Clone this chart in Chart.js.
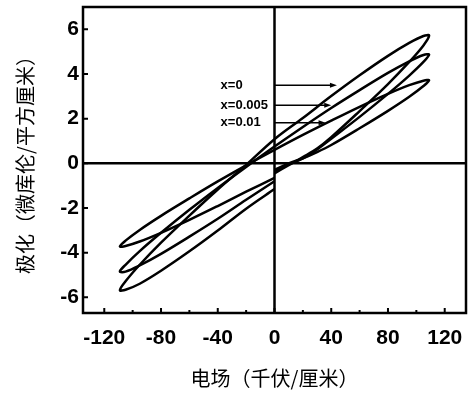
<!DOCTYPE html>
<html>
<head>
<meta charset="utf-8">
<script src="https://cdn.jsdelivr.net/npm/chart.js@4/dist/chart.umd.min.js"></script>
<style>
	body { margin: 0; background: #fff; }
	#wrap { width: 474px; height: 395px; position: relative; }
</style>
</head>
<body>
<div id="wrap"><canvas id="loop"></canvas></div>
<script>
//data
const fieldE = [0, 10, 20, 30, 40, 60, 80, 95, 105, 109, 105, 95, 80, 60, 40, 20, 0, -20, -40, -60, -80, -95, -105, -109, -105, -95, -80, -60, -40, -20, 0];
const polX0 = [-0.45, -0.08, 0.28, 0.66, 1.17, 2.34, 3.55, 4.54, 5.28, 5.72, 5.70, 5.39, 4.81, 3.94, 3.01, 2.03, 1.08, -0.07, -1.17, -2.34, -3.55, -4.54, -5.28, -5.68, -5.66, -5.39, -4.81, -3.94, -3.01, -2.03, -1.15];
const polX005 = [-0.35, -0.05, 0.22, 0.62, 1.10, 2.08, 3.11, 3.93, 4.54, 4.87, 4.85, 4.57, 4.05, 3.28, 2.48, 1.63, 0.75, -0.16, -1.10, -2.08, -3.11, -3.93, -4.54, -4.84, -4.85, -4.57, -4.05, -3.28, -2.48, -1.63, -0.80];
const polX01 = [-0.30, 0.0, 0.22, 0.50, 0.82, 1.57, 2.35, 2.98, 3.46, 3.72, 3.70, 3.50, 3.11, 2.53, 1.91, 1.27, 0.60, -0.09, -0.81, -1.57, -2.35, -2.98, -3.46, -3.72, -3.70, -3.50, -3.11, -2.53, -1.91, -1.27, -0.65];

const seriesNames = ["x=0", "x=0.005", "x=0.01"];
const labelP = [3.5, 2.6, 1.82];
const arrowEndE = [44, 40, 36];

const xTicks = [-120, -80, -40, 0, 40, 80, 120];
const xMinorTicks = [-100, -60, -20, 20, 60, 100];
const yTicks = [-6, -4, -2, 0, 2, 4, 6];

function toPoints(ys) {
	return fieldE.map(function (e, i) {
		return { x: e, y: ys[i] };
	});
}

//frame, zero lines, inner ticks, labels with arrows
const decor = {
	id: "decor",
	afterDatasetsDraw: function (chart) {
		let ctx = chart.ctx;
		let a = chart.chartArea;
		let xs = chart.scales.x;
		let ys = chart.scales.y;
		ctx.save();
		ctx.strokeStyle = "#000";
		ctx.lineWidth = 2.5;
		ctx.strokeRect(a.left, a.top, a.right - a.left, a.bottom - a.top);

		let x0 = xs.getPixelForValue(0);
		let y0 = ys.getPixelForValue(0);
		ctx.beginPath();
		ctx.moveTo(x0, a.top);
		ctx.lineTo(x0, a.bottom);
		ctx.moveTo(a.left, y0);
		ctx.lineTo(a.right, y0);
		ctx.stroke();

		ctx.lineWidth = 2;
		ctx.beginPath();
		xTicks.forEach(function (v) {
			let px = xs.getPixelForValue(v);
			ctx.moveTo(px, a.bottom);
			ctx.lineTo(px, a.bottom - 5);
		});
		xMinorTicks.forEach(function (v) {
			let px = xs.getPixelForValue(v);
			ctx.moveTo(px, a.bottom);
			ctx.lineTo(px, a.bottom - 3);
		});
		yTicks.forEach(function (v) {
			let py = ys.getPixelForValue(v);
			ctx.moveTo(a.left, py);
			ctx.lineTo(a.left + 5, py);
		});
		ctx.stroke();

		ctx.font = "bold 13px 'Liberation Sans', Arial, sans-serif";
		ctx.fillStyle = "#000";
		ctx.textAlign = "left";
		ctx.textBaseline = "middle";
		ctx.lineWidth = 1.5;
		seriesNames.forEach(function (name, i) {
			let py = ys.getPixelForValue(labelP[i]);
			ctx.fillText(name, xs.getPixelForValue(-38), py);
			let xe = xs.getPixelForValue(arrowEndE[i]);
			ctx.beginPath();
			ctx.moveTo(x0, py);
			ctx.lineTo(xe - 5, py);
			ctx.stroke();
			ctx.beginPath();
			ctx.moveTo(xe, py);
			ctx.lineTo(xe - 7, py - 2.5);
			ctx.lineTo(xe - 7, py + 2.5);
			ctx.closePath();
			ctx.fill();
		});
		ctx.restore();
	},
};

const tickFont = { family: "'Liberation Sans', Arial, sans-serif", size: 21, weight: "bold" };
const cjkFont = "'Noto Sans CJK SC', sans-serif";

let loop = document.getElementById("loop").getContext("2d");
let loopChart = new Chart(loop, {
	type: "scatter",
	data: {
		datasets: [
			{ label: seriesNames[0], data: toPoints(polX0) },
			{ label: seriesNames[1], data: toPoints(polX005) },
			{ label: seriesNames[2], data: toPoints(polX01) },
		].map(function (d) {
			d.showLine = true;
			d.borderColor = "#000";
			d.borderWidth = 2.5;
			d.pointRadius = 0;
			d.tension = 0.35;
			d.fill = false;
			return d;
		}),
	},
	options: {
		responsive: true,
		maintainAspectRatio: false,
		animation: false,
		layout: { padding: { top: 7, right: 8, left: 0, bottom: 0 } },
		plugins: {
			legend: { display: false },
			tooltip: { enabled: false },
		},
		scales: {
			x: {
				type: "linear",
				min: -135,
				max: 135,
				afterBuildTicks: function (s) {
					s.ticks = xTicks.map(function (v) { return { value: v }; });
				},
				afterFit: function (s) {
					s.height = 82;
					s.paddingLeft = 0;
					s.paddingRight = 0;
				},
				grid: { display: false, drawTicks: false },
				border: { display: false },
				ticks: { color: "#000", font: tickFont, padding: 13, maxRotation: 0, autoSkip: false },
				title: {
					display: true,
					text: "电场（千伏/厘米）",
					color: "#000",
					font: { family: cjkFont, size: 20 },
					padding: { top: 0, bottom: 5 },
				},
			},
			y: {
				type: "linear",
				min: -6.7,
				max: 7,
				afterBuildTicks: function (s) {
					s.ticks = yTicks.map(function (v) { return { value: v }; });
				},
				afterFit: function (s) {
					s.width = 83;
					s.paddingTop = 0;
					s.paddingBottom = 0;
				},
				grid: { display: false, drawTicks: false },
				border: { display: false },
				ticks: { color: "#000", font: tickFont, padding: 4, autoSkip: false },
				title: {
					display: true,
					text: "极化（微库伦/平方厘米）",
					color: "#000",
					font: { family: cjkFont, size: 20 },
					padding: { top: 13, bottom: 0 },
				},
			},
		},
	},
	plugins: [decor],
});
</script>
</body>
</html>
